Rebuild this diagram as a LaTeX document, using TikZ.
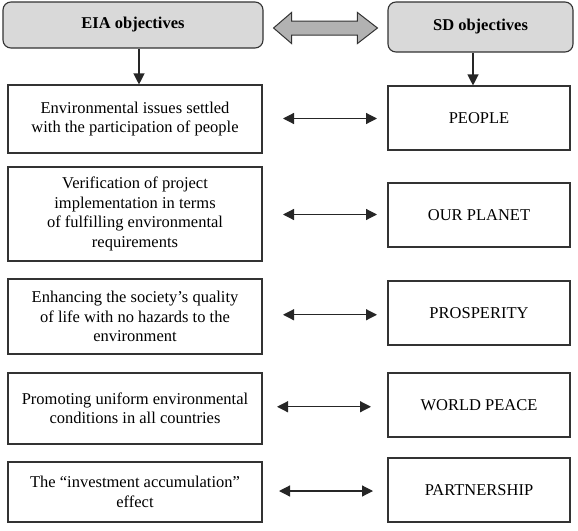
\documentclass[tikz,border=0pt]{standalone}
\usepackage{xcolor}
\usepackage{fontspec}
\setmainfont{Liberation Serif}
\usepackage{tikz}
\usetikzlibrary{positioning, calc, arrows.meta}

\begin{document}
\begin{tikzpicture}[x=1pt, y=1pt, font=\fontsize{16.5}{19.5}\selectfont]
			\useasboundingbox (0,0) rectangle (578,-530);
			\tikzstyle{head}=[rectangle, rounded corners=8pt, draw=black!80, line width=1.1pt, fill=black!15, text=black, font=\fontsize{16.5}{19.5}\selectfont\bfseries]
			\tikzstyle{goal}=[rectangle, draw=black!80, line width=1.1pt, minimum width=254pt, inner sep=2pt, align=center, text=black]
			\tikzstyle{pillar}=[rectangle, draw=black!80, line width=1.1pt, minimum width=182pt, minimum height=64pt, text=black]
			\tikzstyle{tip}=[draw=black!85, line width=1.2pt, -{Triangle[length=11pt, width=11pt]}]
			\tikzstyle{link}=[draw=black!85, line width=1.2pt, {Triangle[length=11pt, width=11pt]}-{Triangle[length=11pt, width=11pt]}]
			\tikzstyle{bigarrow}=[draw=black!80, line width=1pt, fill=black!30, line join=miter]
			%%
			\node (eia) at (133,-25) [head, minimum width=260pt, minimum height=46pt] {EIA objectives};
			\node (sd) at (480.5,-27) [head, minimum width=185pt, minimum height=50pt] {SD objectives};
			
			\node (e1) at (135,-119) [goal, minimum height=68pt] {Environmental issues settled\\with the participation of people};
			\node (e2) at (135,-214) [goal, minimum height=94pt] {Verification of project\\implementation in terms\\of fulfilling environmental\\requirements};
			\node (e3) at (135,-316.5) [goal, minimum height=75pt] {Enhancing the society’s quality\\of life with no hazards to the\\environment};
			\node (e4) at (135,-408.5) [goal, minimum height=71pt] {Promoting uniform environmental\\conditions in all countries};
			\node (e5) at (135,-492) [goal, minimum height=60pt] {The “investment accumulation”\\effect};
			
			\node (p1) at (479,-118) [pillar] {PEOPLE};
			\node (p2) at (479,-215) [pillar] {OUR PLANET};
			\node (p3) at (479,-313) [pillar] {PROSPERITY};
			\node (p4) at (479,-405) [pillar] {WORLD PEACE};
			\node (p5) at (479,-490) [pillar] {PARTNERSHIP};
			
			%% wide double arrow between the two headers
			\coordinate (bl) at ($(eia.east)+(10,-3)$);
			\coordinate (br) at ($(sd.west)+(-10,-1)$);
			\draw [bigarrow] (bl) -- ++(18,15.5) -- ++(0,-8.5) -- ($(br)+(-20,7)$) -- ++(0,8.5) -- (br)
				-- ++(-20,-15.5) -- ++(0,8.5) -- ($(bl)+(18,-7)$) -- ++(0,-8.5) -- cycle;
			
			\draw [tip] ([xshift=6pt]eia.south) -- ([xshift=4pt]e1.north);
			\draw [tip] ([xshift=-7.5pt]sd.south) -- ([xshift=-6pt]p1.north);
			
			\foreach \i/\l/\r in {1/42/52, 2/42/52, 3/42/52, 4/48/46, 5/46/48}{
				\coordinate (m\i) at ($(e\i.east)!0.5!(p\i.west)$);
				\draw [link] ([xshift=-\l pt]m\i) -- ([xshift=\r pt]m\i);
			}
			\end{tikzpicture}
\end{document}
